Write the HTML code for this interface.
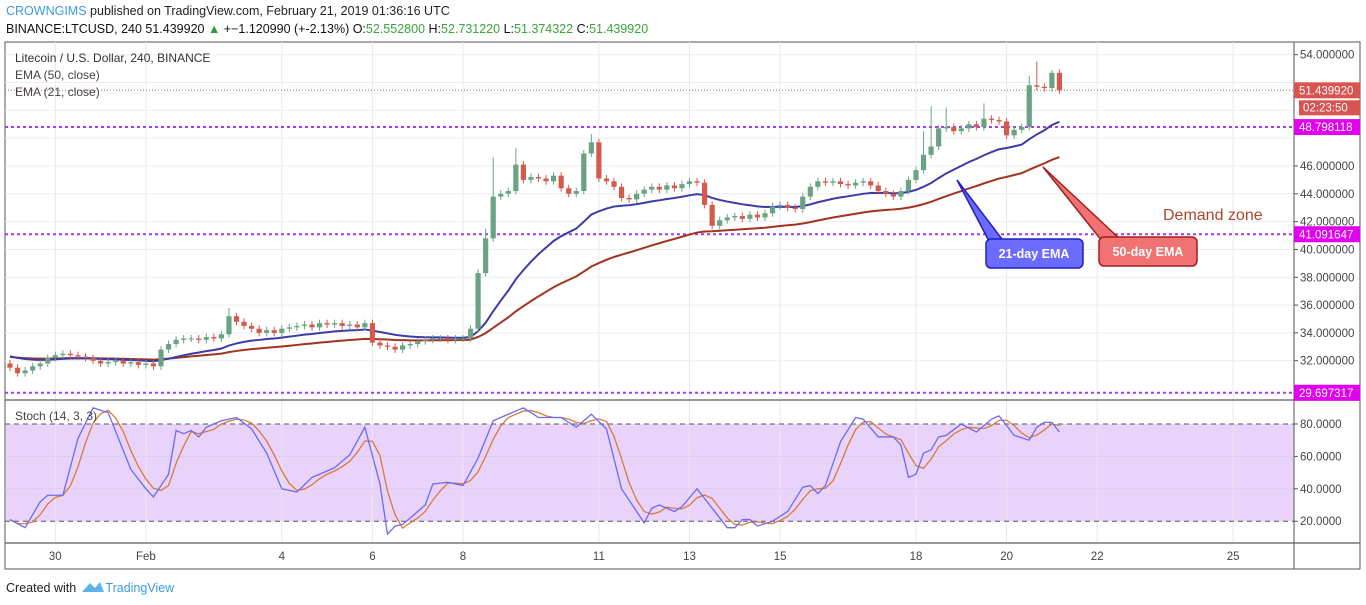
<!DOCTYPE html>
<html><head><meta charset="utf-8"><style>
body{margin:0;width:1366px;height:605px;background:#fff;overflow:hidden;font-family:"Liberation Sans",sans-serif}
svg{position:absolute;left:0;top:0}
text{font-family:"Liberation Sans",sans-serif}
</style></head><body>
<svg id="c" width="1366" height="605"></svg>
<script>
const closes=[31.5,31.1,31.3,31.6,31.8,32.2,32.4,32.5,32.4,
32.3,32.2,32.0,31.8,31.9,32.0,
31.8,31.9,31.7,31.8,31.6,32.8,
33.2,33.5,33.6,33.6,33.5,33.7,33.6,33.9,
35.2,34.8,34.5,34.3,34.0,34.2,34.0,34.3,
34.4,34.5,34.6,34.4,34.7,34.6,34.7,34.5,34.6,34.4,34.7,
33.3,33.1,33.0,32.8,33.1,33.2,33.4,33.5,
33.6,33.6,33.5,33.6,33.6,34.3,
38.3,40.8,43.8,
44.0,44.2,46.1,45.0,45.2,45.1,
44.9,45.3,44.4,44.0,44.2,
46.9,47.7,45.1,
44.9,44.5,43.7,43.6,44.0,44.3,44.5,44.3,44.6,44.4,44.7,44.9,44.8,
43.2,41.7,42.1,42.3,42.4,42.2,42.5,
42.3,42.6,43.1,43.2,43.0,42.9,
43.8,44.5,44.9,44.8,44.9,44.7,44.6,44.8,
44.9,44.6,44.2,44.0,43.8,
44.2,45.0,45.7,46.8,47.4,
48.7,48.8,48.5,48.7,49.0,48.8,49.4,49.3,
49.2,48.2,48.6,48.8,
51.8,51.7,51.6,52.7,51.43992];
const firstOpen=31.8;
const bigWicks={29:35.8,63:41.5,64:46.6,67:47.3,77:48.3,121:48.5,122:50.3,124:50.2,129:50.5,135:52.5,136:53.5,138:52.9};
const stochKIdx=[0,2,4,5,7,9,11,13,16,18,19,21,22,23,24,25,26,28,30,32,34,36,38,40,43,45,47,49,50,51,52,55,56,58,60,62,64,65,68,70,73,75,77,79,81,84,85,86,88,89,91,95,96,97,98,99,101,103,105,106,107,108,110,112,113,115,117,118,119,120,121,122,123,124,126,128,130,131,133,135,136,137,138,139];
const stochKVal=[21,16,32,36,36,71,90,87,52,40,35,49,76,74,76,72,78,82,84,77,62,40,38,47,53,61,78,43,12,17,18,30,43,44,42,59,82,84,90,84,84,78,86,77,40,19,28,30,26,29,40,16,16,21,21,17,20,26,41,42,37,42,69,84,83,72,72,67,47,49,62,64,72,73,80,75,83,85,73,70,78,81,81,75];
const priceTicks=[54,46,44,42,40,38,36,34,32];
const stochTicks=[80,60,40,20];
const dayLabels=["30","Feb","4","6","8","11","13","15","18","20","22","25"];
const dayIdx=[6,18,36,48,60,78,90,102,120,132,144,162];
const levels=[48.798118,41.091647,29.697317];

const S=document.getElementById('c'),NS='http://www.w3.org/2000/svg';
function el(t,a,p){const e=document.createElementNS(NS,t);for(const k in a)e.setAttribute(k,a[k]);(p||S).appendChild(e);return e;}
const X0=10,DX=7.55,L=5,R=1294,RE=1360;
const bx=i=>X0+DX*i;
const py=p=>54.7+(54-p)*13.91;
const sy=v=>424+(80-v)*1.62;
let t=el('text',{x:6,y:15,'font-size':12.5,fill:'#222'});t.innerHTML='<tspan fill="#3c9be0">CROWNGIMS</tspan> published on TradingView.com, February 21, 2019 01:36:16 UTC';

t=el('text',{x:6,y:33,'font-size':12.5,fill:'#111'});t.innerHTML='BINANCE:LTCUSD, 240 51.439920 <tspan fill="#2e9a2e">▲</tspan> +−1.120990 (+-2.13%) O:<tspan fill="#3aa63a">52.552800</tspan> H:<tspan fill="#3aa63a">52.731220</tspan> L:<tspan fill="#3aa63a">51.374322</tspan> C:<tspan fill="#3aa63a">51.439920</tspan>';

el('rect',{x:L,y:42,width:RE-L,height:527,fill:'#fff',stroke:'#555','stroke-width':1});
el('rect',{x:L+1,y:sy(80),width:R-L-1,height:sy(20)-sy(80),fill:'#ead3fb'});
dayIdx.forEach(i=>{const x=bx(i);if(x>L&&x<R){el('line',{x1:x,x2:x,y1:42,y2:543,stroke:'#e6e8ef'});}});
priceTicks.concat([52,50,48]).forEach(p=>el('line',{x1:L,x2:R,y1:py(p),y2:py(p),stroke:'#eceef3'}));
[60,40].forEach(v=>el('line',{x1:L,x2:R,y1:sy(v),y2:sy(v),stroke:'#d9d0ea'}));
[80,20].forEach(v=>el('line',{x1:L,x2:R,y1:sy(v),y2:sy(v),stroke:'#555','stroke-dasharray':'5,4'}));
el('line',{x1:L,x2:RE,y1:400,y2:400,stroke:'#777','stroke-width':1.5});
el('line',{x1:L,x2:RE,y1:543,y2:543,stroke:'#777','stroke-width':1.5});
el('line',{x1:R,x2:R,y1:42,y2:569,stroke:'#555'});
priceTicks.forEach(p=>{el('line',{x1:R,x2:R+4,y1:py(p),y2:py(p),stroke:'#555'});const e=el('text',{x:R+6,y:py(p)+4,'font-size':11.5,fill:'#444'});e.textContent=p.toFixed(6);});
stochTicks.forEach(v=>{el('line',{x1:R,x2:R+4,y1:sy(v),y2:sy(v),stroke:'#555'});const e=el('text',{x:R+6,y:sy(v)+4,'font-size':11.5,fill:'#444'});e.textContent=v.toFixed(4);});
dayLabels.forEach((d,k)=>{const x=bx(dayIdx[k]);const e=el('text',{x:x,y:560,'font-size':11.5,fill:'#444','text-anchor':'middle'});e.textContent=d;});
levels.forEach(v=>{const y=py(v);const ln=el('line',{x1:L,x2:R,y1:y,y2:y,stroke:'#a63cf0','stroke-width':2,'stroke-dasharray':'3,3'});
el('rect',{x:R,y:y-8,width:RE-R,height:16,fill:'#e200f0'});const e=el('text',{x:R+5,y:y+4,'font-size':11.5,fill:'#fff'});e.textContent=v.toFixed(6);});
const last=closes[closes.length-1];
el('line',{x1:L,x2:R,y1:py(last),y2:py(last),stroke:'#b07060','stroke-dasharray':'1,2'});
el('rect',{x:R,y:py(last)-8,width:RE-R,height:16,fill:'#d9534f'});
t=el('text',{x:R+5,y:py(last)+4,'font-size':11.5,fill:'#fff'});t.textContent=last.toFixed(6);
el('rect',{x:R+5,y:py(last)+10,width:RE-R-5,height:15,fill:'#d9534f'});
t=el('text',{x:R+9,y:py(last)+21,'font-size':11.5,fill:'#fff'});t.textContent='02:23:50';
function ema(n,seed){const a=2/(n+1);let e=seed;return closes.map(c=>e=e+a*(c-e));}
const e21=ema(21,32.4),e50=ema(50,32.3);
function line(arr,f,col,w,name){const p=el('polyline',{points:arr.map((v,i)=>bx(i)+','+f(v)).join(' '),fill:'none',stroke:col,'stroke-width':w});}
line(e50,py,'#a3321e',2,'ema-50-line');
line(e21,py,'#3c3ca8',2,'ema-21-line');
const g=el('g',{});
closes.forEach((c,i)=>{const o=i?closes[i-1]:firstOpen;const up=c>=o;const col=up?'#6aa383':'#d45b4c';
let hi=Math.max(o,c)+0.25,lo=Math.min(o,c)-0.25;if(bigWicks[i])hi=bigWicks[i];const x=bx(i);
el('line',{x1:x,x2:x,y1:py(hi),y2:py(lo),stroke:col},g);
const r=el('rect',{x:x-2.6,y:py(Math.max(o,c)),width:5.2,height:Math.max(1,Math.abs(py(o)-py(c))),fill:col},g);
});
const kArr=[];for(let i=0;i<closes.length;i++){let j=0;while(j<stochKIdx.length-2&&stochKIdx[j+1]<i)j++;const a=stochKIdx[j],b=stochKIdx[j+1];const tt=Math.max(0,Math.min(1,(i-a)/(b-a)));kArr.push(stochKVal[j]+(stochKVal[j+1]-stochKVal[j])*tt);}
const dArr=kArr.map((v,i)=>i<2?v:(kArr[i]+kArr[i-1]+kArr[i-2])/3);
line(dArr,sy,'#d77b3a',1.3,'stoch-d-line');
line(kArr,sy,'#6b6bf0',1.3,'stoch-k-line');
[['Litecoin / U.S. Dollar, 240, BINANCE',62,'#333','symbol-title'],['EMA (50, close)',79,'#444','ema-50-legend'],['EMA (21, close)',96,'#444','ema-21-legend'],['Stoch (14, 3, 3)',420,'#444','stoch-legend']].forEach(a=>{const e=el('text',{x:15,y:a[1],'font-size':12,fill:a[2]});e.textContent=a[0];});
t=el('text',{x:1163,y:220,'font-size':16,fill:'#b0452c'});t.textContent='Demand zone';
el('polygon',{points:'957,180 990,243 1005,243',fill:'#6b6bff',stroke:'#2020c0','stroke-width':1.5});
let b=el('rect',{x:986,y:239,width:97,height:29,rx:5,fill:'#6b6bff',stroke:'#2020c0','stroke-width':1.5});
t=el('text',{x:1034,y:258,'font-size':12.5,'font-weight':'bold',fill:'#fff','text-anchor':'middle'});t.textContent='21-day EMA';
el('polygon',{points:'1043,167 1102,241 1122,241',fill:'#f07272',stroke:'#a02020','stroke-width':1.5});
b=el('rect',{x:1099,y:237,width:98,height:29,rx:5,fill:'#f07272',stroke:'#a02020','stroke-width':1.5});
t=el('text',{x:1148,y:256,'font-size':12.5,'font-weight':'bold',fill:'#fff','text-anchor':'middle'});t.textContent='50-day EMA';
t=el('text',{x:6,y:592,'font-size':12.5,fill:'#222'});t.innerHTML='Created with <tspan fill="#3c9be0" dx="26">TradingView</tspan>';
el('path',{d:'M82 592 L90 583 L95 588 L100 582 L104 592 Z',fill:'#5cb3ea'});
</script>
</body></html>
